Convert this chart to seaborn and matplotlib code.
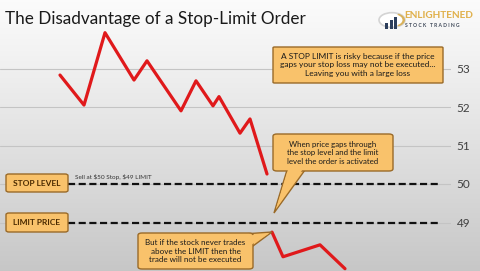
import numpy as np
import pandas as pd
import matplotlib
matplotlib.use("Agg")
import matplotlib.pyplot as plt
import seaborn as sns
from matplotlib.patches import FancyBboxPatch, Polygon, Circle, Rectangle, Wedge

sns.set_theme(style="white")
plt.rcParams['font.family'] = ['Lato', 'DejaVu Sans']

# ---------------- data ----------------
title = "The Disadvantage of a Stop-Limit Order"
seg1_x = [60, 84, 105, 134, 147, 181, 196, 213, 219, 240, 250, 267]
seg1_y = [52.83, 52.05, 53.93, 52.70, 53.20, 51.90, 52.68, 52.03, 52.27, 51.32, 51.69, 50.26]
seg2_x = [272, 283, 320, 345]
seg2_y = [48.75, 48.11, 48.42, 47.80]
yticks = [49, 50, 51, 52, 53]
stop_level = 50
limit_price = 49
note_top = "A STOP LIMIT is risky because if the price\ngaps your stop loss may not be executed...\nLeaving you with a large loss"
note_mid = "When price gaps through\nthe stop level and the limit\nlevel the order is activated"
note_bot = "But if the stock never trades\nabove the LIMIT then the\ntrade will not be executed"
sell_note = "Sell at \\$50 Stop, \\$49 LIMIT"

W, H = 480, 271
fig = plt.figure(figsize=(W / 100, H / 100), dpi=100)

# background gradient
bg = fig.add_axes([0, 0, 1, 1], zorder=0)
grad = np.linspace(0, 1, 256).reshape(-1, 1)
top = np.array([0.985, 0.985, 0.985])
bot = np.array([0.78, 0.78, 0.78])
img = top + (bot - top) * grad[:, :, None] ** 1.1
bg.imshow(np.repeat(img, 4, axis=1), aspect='auto', extent=[0, 1, 0, 1])
bg.axis('off')

ax = fig.add_axes([0, 0, 451 / W, 1], zorder=1)
ax.patch.set_alpha(0)
ax.set_xlim(0, 451)
ax.set_ylim(50 - (271 - 184) / 38.5, 50 + 184 / 38.5)

for v in yticks:
    ax.axhline(v, color='#c4c4c4', lw=0.8, zorder=1)

df1 = pd.DataFrame({'x': seg1_x, 'y': seg1_y})
df2 = pd.DataFrame({'x': seg2_x, 'y': seg2_y})
sns.lineplot(data=df1, x='x', y='y', ax=ax, color='#e0191b', lw=2.3, sort=False, zorder=3)
sns.lineplot(data=df2, x='x', y='y', ax=ax, color='#e0191b', lw=2.3, sort=False, zorder=3)

ax.hlines([stop_level, limit_price], 68, 438, colors='#111111', lw=1.6,
          linestyles=(0, (3.2, 1.6)), zorder=2)

ax.yaxis.tick_right()
ax.set_yticks(yticks)
ax.set_yticklabels([str(v) for v in yticks], fontsize=8.5, color='#404040')
ax.tick_params(axis='y', length=0, pad=4)
ax.set_xticks([])
ax.set_xlabel('')
ax.set_ylabel('')
for s in ax.spines.values():
    s.set_visible(False)

# ---------- annotations in pixel coordinates ----------
def P(x, y):
    return (x / W, 1 - y / H)

tf = fig.transFigure
FILL = '#f9c26b'
EDGE = '#9a6a28'
TXT = '#4a2a00'

def box(x0, y0, x1, y1, r=3, z=5):
    (fx0, fy1) = P(x0, y0)
    (fx1, fy0) = P(x1, y1)
    p = FancyBboxPatch((fx0, fy0), fx1 - fx0, fy1 - fy0,
                       boxstyle=f"round,pad=0,rounding_size={r / W}",
                       transform=tf, facecolor=FILL, edgecolor=EDGE, lw=1.0, zorder=z)
    fig.add_artist(p)

def tail(pts, inner, z=5):
    fig.add_artist(Polygon([P(*p) for p in pts], closed=True, transform=tf,
                           facecolor=FILL, edgecolor=EDGE, lw=1.0, zorder=z - 0.5))
    fig.add_artist(Polygon([P(*p) for p in inner], closed=True, transform=tf,
                           facecolor=FILL, edgecolor='none', lw=0, zorder=z + 0.5))

# title
fig.text(5 / W, 1 - 19 / H, title, fontsize=12.3, color='#1a1a1a', va='center', ha='left', zorder=6)

# logo
fig.add_artist(Circle(P(392, 20), 13 / W, transform=tf, facecolor='white',
                      edgecolor='#d4d4d4', lw=1.2, zorder=5))
fig.add_artist(Wedge(P(392, 20), 13 / W, -60, 60, width=2.5 / W, transform=tf,
                     facecolor='#d9b25a', edgecolor='none', zorder=5.5))
for i, (bh) in enumerate([6, 9, 12]):
    bx = 385 + i * 4.5
    fig.add_artist(Rectangle(P(bx, 29), 3.2 / W, bh / H, transform=tf,
                             facecolor='#2c3e5c', edgecolor='none', zorder=6))
fig.text(404 / W, 1 - 16 / H, "ENLIGHTENED", fontsize=7.2, fontweight='bold',
         color='#e0b04a', va='center', ha='left', zorder=6)
fig.text(405 / W, 1 - 25.5 / H, "S T O C K   T R A D I N G", fontsize=3.6, fontweight='bold',
         color='#404a5a', va='center', ha='left', zorder=6)

# top note
box(273, 47, 443, 83, r=1.5)
fig.text(358 / W, 1 - 65 / H, note_top, fontsize=6.0, color='#1a1a1a',
         ha='center', va='center', linespacing=1.2, zorder=7)

# middle callout
tail([(287, 170), (274, 213), (305, 170)], [(288.5, 168), (276, 209), (303.5, 168)])
box(273, 134, 393, 171, r=4)
fig.text(333 / W, 1 - 152.5 / H, note_mid, fontsize=5.7, color='#1a1a1a',
         ha='center', va='center', linespacing=1.25, zorder=7)

# bottom callout
tail([(243, 234), (272, 232), (253, 246)], [(243, 236), (269, 233.5), (251, 245)])
box(138, 233, 253, 269, r=4)
fig.text(195.5 / W, 1 - 251 / H, note_bot, fontsize=5.8, color='#1a1a1a',
         ha='center', va='center', linespacing=1.25, zorder=7)

# level labels
box(6, 174, 68, 192, r=3)
fig.text(37 / W, 1 - 183.5 / H, "STOP LEVEL", fontsize=6.0, fontweight='bold',
         color=TXT, ha='center', va='center', zorder=7)
box(6, 213, 68, 232, r=3)
fig.text(37 / W, 1 - 222.5 / H, "LIMIT PRICE", fontsize=6.0, fontweight='bold',
         color=TXT, ha='center', va='center', zorder=7)
fig.text(75 / W, 1 - 177 / H, sell_note, fontsize=4.6, color='#333333',
         ha='left', va='center', zorder=7)

fig.savefig("out.png", dpi=100)
